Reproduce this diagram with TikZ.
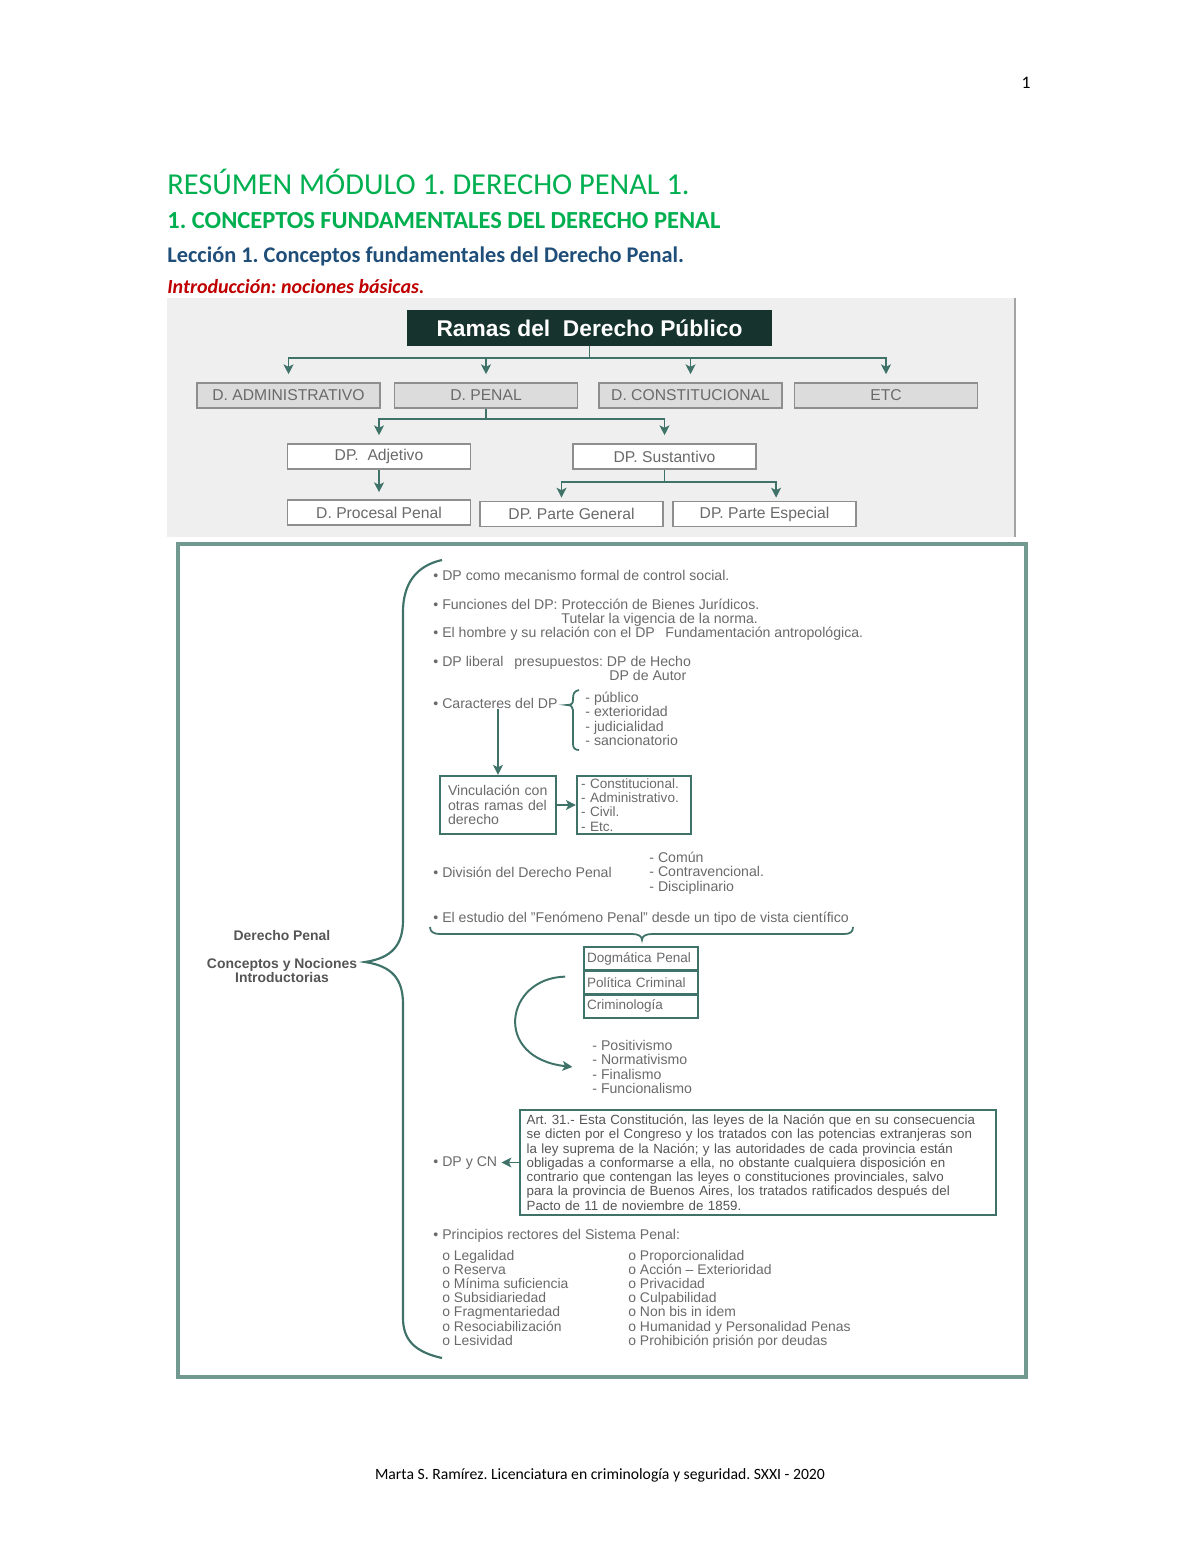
\documentclass[tikz,border=0pt]{standalone}
\usepackage{fontspec}
\setmainfont{Liberation Sans}
\newfontfamily\calib{Carlito}
\usetikzlibrary{arrows.meta}
\frenchspacing
\newcommand\nohy{\hyphenpenalty 10000\relax}
\definecolor{tgreen}{HTML}{00B050}
\definecolor{tblue}{HTML}{1F4E79}
\definecolor{tred}{HTML}{C00000}
\definecolor{teal1}{HTML}{3F7369}
\definecolor{darkbox}{HTML}{17332D}
\definecolor{boxfill}{HTML}{DCDCDC}
\definecolor{boxline}{HTML}{8E8E8E}
\definecolor{txtg}{HTML}{6A6A6A}
\definecolor{panel}{HTML}{EFEFEF}
\definecolor{frameg}{HTML}{72998F}
\definecolor{artg}{HTML}{555555}
\begin{document}
\frenchspacing
\begin{tikzpicture}[x=0.51pt,y=-0.51pt,
 conn/.style={draw=teal1,line width=1pt},
 arr/.style={conn,-{Stealth[length=5pt,width=5pt,inset=1.2pt]}},
 tbox/.style={draw=boxline,line width=0.9pt,minimum width=93.3pt,minimum height=12.8pt,inner sep=0pt,text=txtg,font=\fontsize{8}{9}\selectfont},
 gbox/.style={tbox,fill=boxfill},
 wbox/.style={tbox,fill=white},
 lt/.style={font=\fontsize{7.2}{8.6}\selectfont,text=txtg,inner sep=0pt,anchor=base west},
 li/.style={font=\fontsize{7.1}{8.6}\selectfont,text=txtg,inner sep=0pt,anchor=base west},
 tealbox/.style={draw=teal1,line width=1.2pt,fill=white,inner ysep=0pt,text=txtg,align=left,font=\nohy\fontsize{7.2}{7.3}\selectfont},
 smallbox/.style={tealbox,font=\nohy\fontsize{6.9}{7.2}\selectfont},
 lbl/.style={font=\bfseries\fontsize{7.1}{8}\selectfont,text=artg,inner sep=0pt,anchor=base,align=center},
]
\fill[white] (0,0) rectangle (1200,1553);
\path[use as bounding box] (0,0) rectangle (1200,1553);

% headers
\node[anchor=base,inner sep=0,font=\calib\fontsize{9}{10}\selectfont] (pnum) at (1026,89) {1};
\node[anchor=base west,inner sep=0,text=tgreen,font=\calib\fontsize{15.5}{18}\selectfont] (h1) at (167,194) {RESÚMEN MÓDULO 1. DERECHO PENAL 1.};
\node[anchor=base west,inner sep=0,text=tgreen,font=\calib\bfseries\fontsize{12.5}{14}\selectfont] (h2) at (167,229) {1. CONCEPTOS FUNDAMENTALES DEL DERECHO PENAL};
\node[anchor=base west,inner sep=0,text=tblue,font=\calib\bfseries\fontsize{11.4}{13}\selectfont] (h3) at (167,262) {Lección 1. Conceptos fundamentales del Derecho Penal.};
\node[anchor=base west,inner sep=0,text=tred,font=\calib\bfseries\itshape\fontsize{10.2}{12}\selectfont] (h4) at (167,293) {Introducción: nociones básicas.};
\node[anchor=base,inner sep=0,font=\calib\fontsize{8}{9}\selectfont] (foot) at (600,1479) {Marta S. Ramírez. Licenciatura en criminología y seguridad. SXXI - 2020};

% top panel
\fill[panel] (167,298) rectangle (1015,537);
\draw[boxline!80,line width=1pt] (1015,298) -- (1015,537);

\node[fill=darkbox,minimum width=186.2pt,minimum height=18.4pt,inner sep=0,text=white,font=\bfseries\fontsize{11.6}{13}\selectfont] (ramas) at (589.5,328) {Ramas del\ \ Derecho Público};
\node[gbox] (adm) at (288.5,395.5) {D. ADMINISTRATIVO};
\node[gbox] (pen) at (486,395.5) {D. PENAL};
\node[gbox] (con) at (690.5,395.5) {D. CONSTITUCIONAL};
\node[gbox] (etc) at (886,395.5) {ETC};
\node[wbox] (adj) at (379,456.5) {DP.\ \ Adjetivo};
\node[wbox] (sus) at (664.5,456.5) {DP. Sustantivo};
\node[wbox] (proc) at (379,512.5) {D. Procesal Penal};
\node[wbox] (gen) at (571.5,514) {DP. Parte General};
\node[wbox] (esp) at (764.5,514) {DP. Parte Especial};

\coordinate (j1) at (589.5,358);
\coordinate (j2) at (486,419);
\coordinate (j3) at (664.5,482);
\draw[conn] (ramas.south) -- (j1);
\foreach \n in {adm,pen,con,etc} \draw[arr,shorten >=4pt] (j1) -| (\n.north);
\draw[conn] (pen.south) -- (j2);
\foreach \n in {adj,sus} \draw[arr,shorten >=4pt] (j2) -| (\n.north);
\draw[arr,shorten >=3.5pt] (adj.south) -- (proc.north);
\draw[conn] (sus.south) -- (j3);
\draw[arr,shorten >=1.5pt] (j3) -| ([xshift=-5.1pt]gen.north);
\draw[arr,shorten >=1.5pt] (j3) -| ([xshift=5.9pt]esp.north);

% lower frame
\draw[frameg,line width=2.2pt] (178,544) rectangle (1026,1377);

% big brace
\draw[conn,line width=1.1pt] (442,560) .. controls (415,566) and (403,585) .. (403,612) -- (403,920) .. controls (403,945) and (392,958) .. (365,962) .. controls (392,966) and (403,979) .. (403,1004) -- (403,1318) .. controls (403,1340) and (415,1352) .. (442,1358);

\node[lbl] (dpen) at (282,940) {Derecho Penal};
\node[lbl] (cyn) at (282,968) {Conceptos y Nociones};
\node[lbl] (intr) at (282,982) {Introductorias};

% bullets
\node[lt] (b1) at (433,580) {• DP como mecanismo formal de control social.};
\node[lt] (b2) at (433,609) {• Funciones del DP: Protección de Bienes Jurídicos.};
\node[lt] (b2b) at (561,623) {Tutelar la vigencia de la norma.};
\node[lt] (b3) at (433,637) {• El hombre y su relación con el DP};
\node[lt] (b3b) at (665,637) {Fundamentación antropológica.};
\node[lt] (b4) at (433,666) {• DP liberal};
\node[lt] (b4b) at (514,666) {presupuestos: DP de Hecho};
\node[lt] (b4c) at (609,680) {DP de Autor};
\node[lt] (b5) at (433,708) {• Caracteres del DP};
\draw[conn,line width=0.9pt] (579,690) .. controls (574,691) and (573,694) .. (573,699) -- (573,700) .. controls (573,704) and (571,705) .. (567,705) .. controls (571,705) and (573,707) .. (573,710) -- (573,744) .. controls (573,748) and (575,750) .. (579,750);
\node[lt] (ca1) at (585,702) {- público};
\node[lt] (ca2) at (585,716) {- exterioridad};
\node[lt] (ca3) at (585,731) {- judicialidad};
\node[lt] (ca4) at (585,745) {- sancionatorio};

\node[tealbox,text width=51pt,inner xsep=4pt,minimum height=29.6pt] (vinc) at (498,805) {Vinculación con\\otras ramas del\\derecho};
\node[smallbox,text width=54pt,inner xsep=2.05pt,minimum height=29.6pt] (otras) at (634,805) {- Constitucional.\\- Administrativo.\\- Civil.\\- Etc.};
\draw[arr] (b5.south -| vinc.north) -- (vinc.north);
\draw[arr] (vinc.east) -- (otras.west);

\node[lt] (b6) at (433,877) {• División del Derecho Penal};
\node[lt] (dv1) at (649,862) {- Común};
\node[lt] (dv2) at (649,876) {- Contravencional.};
\node[lt] (dv3) at (649,891) {- Disciplinario};

\node[lt] (b7) at (433,922) {• El estudio del "Fenómeno Penal" desde un tipo de vista científico};
\draw[conn,line width=0.9pt] (430,927) .. controls (430,932) and (434,934) .. (440,934) -- (632,934) .. controls (638,934) and (642,936) .. (642,940) .. controls (642,936) and (646,934) .. (652,934) -- (844,934) .. controls (850,934) and (853,932) .. (853,927);

\node[smallbox,text width=55pt,inner xsep=1.55pt,minimum height=12.1pt] (dog) at (641,958.8) {Dogmática Penal};
\node[smallbox,text width=55pt,inner xsep=1.55pt,minimum height=12.1pt] (pol) at (641,982.5) {Política Criminal};
\node[smallbox,text width=55pt,inner xsep=1.55pt,minimum height=12.1pt] (cri) at (641,1006.2) {Criminología};

\node[lt] (e1) at (592,1050) {- Positivismo};
\node[lt] (e2) at (592,1064) {- Normativismo};
\node[lt] (e3) at (592,1079) {- Finalismo};
\node[lt] (e4) at (592,1093) {- Funcionalismo};
\draw[arr] ([xshift=-9pt,yshift=3pt]pol.west) .. controls (505,978) and (492,1058) .. ([xshift=-10pt,yshift=-1.5pt]e2.base west);

\node[tealbox,text=artg,text width=236pt,inner xsep=3.4pt,minimum height=53.6pt,font=\nohy\fontsize{6.8}{7.3}\selectfont] (art) at (758,1162.5) {Art. 31.- Esta Constitución, las leyes de la Nación que en su consecuencia\\se dicten por el Congreso y los tratados con las potencias extranjeras son\\la ley suprema de la Nación; y las autoridades de cada provincia están\\obligadas a conformarse a ella, no obstante cualquiera disposición en\\contrario que contengan las leyes o constituciones provinciales, salvo\\para la provincia de Buenos Aires, los tratados ratificados después del\\Pacto de 11 de noviembre de 1859.};
\node[lt] (dpcn) at (433,1166) {• DP y CN};
\draw[arr,shorten >=2pt] (art.west) -- (dpcn.east |- art.west);

\node[lt] (b9) at (433,1239) {• Principios rectores del Sistema Penal:};
\foreach \itm [count=\i] in {Legalidad,Reserva,Mínima suficiencia,Subsidiariedad,Fragmentariedad,Resociabilización,Lesividad}
  \node[li] (pl\i) at (442,{1260+14.2*(\i-1)}) {o \itm};
\foreach \itm [count=\i] in {Proporcionalidad,Acción – Exterioridad,Privacidad,Culpabilidad,Non bis in idem,Humanidad y Personalidad Penas,Prohibición prisión por deudas}
  \node[li] (pr\i) at (628,{1260+14.2*(\i-1)}) {o \itm};
\end{tikzpicture}
\end{document}
